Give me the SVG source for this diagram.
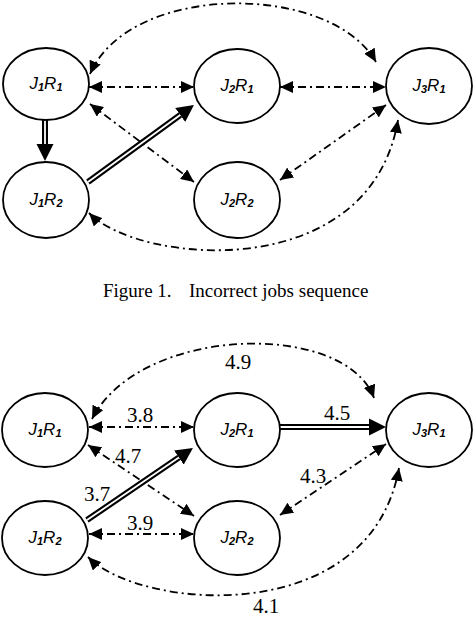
<svg xmlns="http://www.w3.org/2000/svg" width="474" height="620" viewBox="0 0 474 620">
<style>
.node{fill:#fff;stroke:#000;stroke-width:1.8}
.lbl{font-family:"Liberation Sans",Arial,sans-serif;font-style:italic;font-size:17px;text-anchor:middle;fill:#000}
.sub{font-size:11px;font-weight:bold}
.dd{fill:none;stroke:#000;stroke-width:1.8;stroke-dasharray:8 4 2 4;marker-start:url(#ah);marker-end:url(#ah)}
.dbl{fill:none;stroke:#000;stroke-width:6;marker-end:url(#bh)}
.dblw{fill:none;stroke:#fff;stroke-width:1.8}
.num{font-family:"Liberation Serif","Times New Roman",serif;font-size:21px;text-anchor:middle;fill:#000}
.cap{font-family:"Liberation Serif","Times New Roman",serif;font-size:19px;fill:#000}
</style>
<defs>
<marker id="ah" markerUnits="userSpaceOnUse" markerWidth="13" markerHeight="12" viewBox="0 0 13 12" refX="13" refY="6" orient="auto-start-reverse">
<path d="M0,0 L13,6 L0,12 z" fill="#000"/>
</marker>
<marker id="bh" markerUnits="userSpaceOnUse" markerWidth="18" markerHeight="18" viewBox="0 -9 18 18" refX="0" refY="0" orient="auto">
<path d="M0,-8.5 L17,0 L0,8.5 z" fill="#000"/>
</marker>
</defs>

<!-- Figure 1 -->
<g id="connectors1">
<path class="dd" d="M89,87 L194,87"/>
<path class="dd" d="M280,87 L386,87"/>
<path class="dd" d="M90,104 L194,182"/>
<path class="dd" d="M280,180 L386,105"/>
<path class="dd" d="M90,74 C130,-18 330,-18 376,62"/>
<path class="dd" d="M89,213 C140,265 370,285 398,120"/>
<path class="dbl" d="M45,120 L45,144"/>
<path class="dblw" d="M45,120 L45,144"/>
<path class="dbl" d="M88,182 L180.2,115"/>
<path class="dblw" d="M88,182 L180.2,115"/>
</g>
<g id="f1_J1R1"><ellipse class="node" cx="46" cy="84" rx="43" ry="36"/><text class="lbl" x="46" y="89">J<tspan class="sub" dy="2">1</tspan><tspan dy="-2">R</tspan><tspan class="sub" dy="2">1</tspan></text></g>
<g id="f1_J2R1"><ellipse class="node" cx="237" cy="86" rx="43" ry="37"/><text class="lbl" x="237" y="91">J<tspan class="sub" dy="2">2</tspan><tspan dy="-2">R</tspan><tspan class="sub" dy="2">1</tspan></text></g>
<g id="f1_J3R1"><ellipse class="node" cx="429" cy="86" rx="43" ry="38"/><text class="lbl" x="429" y="91">J<tspan class="sub" dy="2">3</tspan><tspan dy="-2">R</tspan><tspan class="sub" dy="2">1</tspan></text></g>
<g id="f1_J1R2"><ellipse class="node" cx="46" cy="200" rx="43" ry="38"/><text class="lbl" x="46" y="205">J<tspan class="sub" dy="2">1</tspan><tspan dy="-2">R</tspan><tspan class="sub" dy="2">2</tspan></text></g>
<g id="f1_J2R2"><ellipse class="node" cx="237" cy="200" rx="43" ry="38"/><text class="lbl" x="237" y="205">J<tspan class="sub" dy="2">2</tspan><tspan dy="-2">R</tspan><tspan class="sub" dy="2">2</tspan></text></g>

<g id="caption"><text class="cap" x="103" y="297">Figure 1.</text><text class="cap" x="189" y="297">Incorrect jobs sequence</text></g>

<!-- Figure 2 -->
<g id="connectors2">
<path class="dd" d="M89,427 L194,427"/>
<path class="dd" d="M88,445 L194,516"/>
<path class="dd" d="M89,534 L194,534"/>
<path class="dd" d="M280,515 L386,444"/>
<path class="dd" d="M92,419 C140,325 345,320 374,398"/>
<path class="dd" d="M88,557 C140,610 370,630 399,468"/>
<path class="dbl" d="M280,427 L369,427"/>
<path class="dblw" d="M280,427 L369,427"/>
<path class="dbl" d="M87,520 L178.9,457.6"/>
<path class="dblw" d="M87,520 L178.9,457.6"/>
</g>
<g id="labels2">
<text class="num" x="238" y="369">4.9</text>
<text class="num" x="140" y="422">3.8</text>
<text class="num" x="128" y="463">4.7</text>
<text class="num" x="97" y="501">3.7</text>
<text class="num" x="140" y="530">3.9</text>
<text class="num" x="337" y="420">4.5</text>
<text class="num" x="313" y="483">4.3</text>
<text class="num" x="266" y="613">4.1</text>
</g>
<g id="f2_J1R1"><ellipse class="node" cx="45" cy="430" rx="43" ry="37"/><text class="lbl" x="45" y="435">J<tspan class="sub" dy="2">1</tspan><tspan dy="-2">R</tspan><tspan class="sub" dy="2">1</tspan></text></g>
<g id="f2_J2R1"><ellipse class="node" cx="237" cy="430" rx="43" ry="37"/><text class="lbl" x="237" y="435">J<tspan class="sub" dy="2">2</tspan><tspan dy="-2">R</tspan><tspan class="sub" dy="2">1</tspan></text></g>
<g id="f2_J3R1"><ellipse class="node" cx="429" cy="430" rx="43" ry="37"/><text class="lbl" x="429" y="435">J<tspan class="sub" dy="2">3</tspan><tspan dy="-2">R</tspan><tspan class="sub" dy="2">1</tspan></text></g>
<g id="f2_J1R2"><ellipse class="node" cx="45" cy="538" rx="43" ry="37"/><text class="lbl" x="45" y="543">J<tspan class="sub" dy="2">1</tspan><tspan dy="-2">R</tspan><tspan class="sub" dy="2">2</tspan></text></g>
<g id="f2_J2R2"><ellipse class="node" cx="237" cy="538" rx="43" ry="37"/><text class="lbl" x="237" y="543">J<tspan class="sub" dy="2">2</tspan><tspan dy="-2">R</tspan><tspan class="sub" dy="2">2</tspan></text></g>
</svg>
